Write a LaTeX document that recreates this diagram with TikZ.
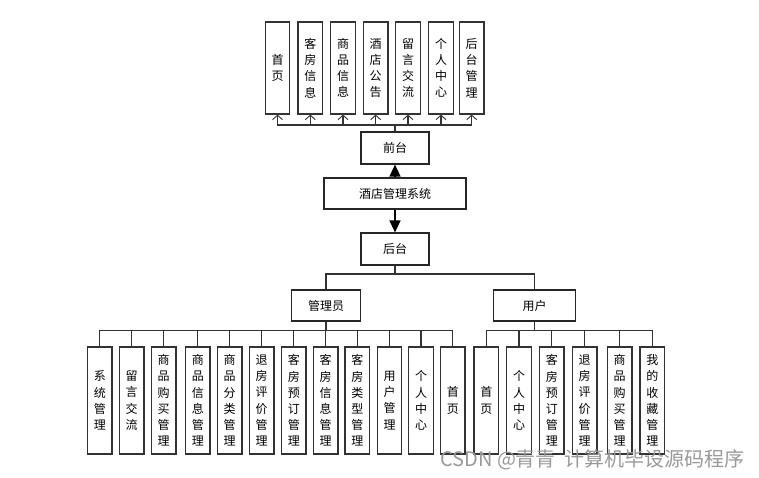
\documentclass[tikz,border=0pt]{standalone}
\usepackage{fontspec}
\newfontfamily\cjk{Noto Sans CJK SC}
\usetikzlibrary{arrows.meta}

\tikzset{
  tallbox/.style={draw=black!80, line width=1.2pt, fill=white, inner sep=0pt,
    minimum width=24.5pt, align=center, font=\cjk\fontsize{12}{16.2}\selectfont},
  toprow/.style={tallbox, minimum height=92pt},
  lowrow/.style={tallbox, minimum height=107pt},
  widebox/.style={draw=black!85, line width=1.2pt, fill=white, inner sep=0pt,
    minimum height=31pt, font=\cjk\fontsize{12}{14}\selectfont},
  wire/.style={draw=black!80, line width=1.3pt},
  openarrow/.style={wire, arrows={-Straight Barb[length=4.5pt, width=10pt, line width=0.9pt]}},
  fullarrow/.style={draw=black, line width=1.4pt, arrows={-Triangle[length=12pt, width=11pt]}}
}

\begin{document}
\begin{tikzpicture}[x=1pt, y=-1pt]
  \useasboundingbox (0, 0) rectangle (759, 478);
  % Draw centre boxes
  \node [widebox, minimum width=142pt] (sys) at (395, 193.6) {酒店管理系统};
  \node [widebox, minimum width=68pt, minimum height=32pt] (front) at (395, 148) {前台};
  \node [widebox, minimum width=68pt, minimum height=32pt] (back) at (395, 249) {后台};
  \node [widebox, minimum width=69pt] (admin) at (326, 305.5) {管理员};
  \node [widebox, minimum width=82pt] (user) at (534.5, 305.5) {用户};
  % Draw front row
  \node [toprow] (f1) at (277.5, 68) {首\\页};
  \node [toprow] (f2) at (310.3, 68) {客\\房\\信\\息};
  \node [toprow] (f3) at (343, 68) {商\\品\\信\\息};
  \node [toprow] (f4) at (375.7, 68) {酒\\店\\公\\告};
  \node [toprow] (f5) at (408, 68) {留\\言\\交\\流};
  \node [toprow] (f6) at (441, 68) {个\\人\\中\\心};
  \node [toprow] (f7) at (471.7, 68) {后\\台\\管\\理};
  % Draw admin row
  \node [lowrow] (a1) at (99.8, 400.5) {系\\统\\管\\理};
  \node [lowrow] (a2) at (131.7, 400.5) {留\\言\\交\\流};
  \node [lowrow] (a3) at (163.7, 400.5) {商\\品\\购\\买\\管\\理};
  \node [lowrow] (a4) at (197.8, 400.5) {商\\品\\信\\息\\管\\理};
  \node [lowrow] (a5) at (229.7, 400.5) {商\\品\\分\\类\\管\\理};
  \node [lowrow] (a6) at (261.7, 400.5) {退\\房\\评\\价\\管\\理};
  \node [lowrow] (a7) at (293.8, 400.5) {客\\房\\预\\订\\管\\理};
  \node [lowrow] (a8) at (325.7, 400.5) {客\\房\\信\\息\\管\\理};
  \node [lowrow] (a9) at (357.3, 400.5) {客\\房\\类\\型\\管\\理};
  \node [lowrow] (a10) at (389.5, 400.5) {用\\户\\管\\理};
  \node [lowrow] (a11) at (421, 400.5) {个\\人\\中\\心};
  \node [lowrow] (a12) at (452.8, 400.5) {首\\页};
  % Draw user row
  \node [lowrow] (u1) at (486.3, 400.5) {首\\页};
  \node [lowrow] (u2) at (519, 400.5) {个\\人\\中\\心};
  \node [lowrow] (u3) at (551.8, 400.5) {客\\房\\预\\订\\管\\理};
  \node [lowrow] (u4) at (584.7, 400.5) {退\\房\\评\\价\\管\\理};
  \node [lowrow] (u5) at (619.7, 400.5) {商\\品\\购\\买\\管\\理};
  \node [lowrow] (u6) at (652.3, 400.5) {我\\的\\收\\藏\\管\\理};
  % Bus points
  \coordinate (fbus) at (395, 125);
  \coordinate (bbus) at (395, 274);
  \coordinate (abus) at (326, 330.7);
  \coordinate (ubus) at (534.5, 330.7);
  % Draw main arrows
  \draw [fullarrow] (sys) -- (front);
  \draw [fullarrow] (sys) -- (back);
  % Draw front wires
  \draw [wire] (front) -- (fbus);
  \draw [openarrow] (fbus) -| (f1.south);
  \draw [openarrow] (fbus) -| (f2.south);
  \draw [openarrow] (fbus) -| (f3.south);
  \draw [openarrow] (fbus) -| (f4.south);
  \draw [openarrow] (fbus) -| (f5.south);
  \draw [openarrow] (fbus) -| (f6.south);
  \draw [openarrow] (fbus) -| (f7.south);
  % Draw back wires
  \draw [wire] (back) -- (bbus);
  \draw [wire] (bbus) -| (admin);
  \draw [wire] (bbus) -| (user);
  \draw [wire] (admin) -- (abus);
  \draw [wire] (abus) -| (a1);
  \draw [wire] (abus) -| (a2);
  \draw [wire] (abus) -| (a3);
  \draw [wire] (abus) -| (a4);
  \draw [wire] (abus) -| (a5);
  \draw [wire] (abus) -| (a6);
  \draw [wire] (abus) -| (a7);
  \draw [wire] (abus) -| (a8);
  \draw [wire] (abus) -| (a9);
  \draw [wire] (abus) -| (a10);
  \draw [wire] (abus) -| (a11);
  \draw [wire] (abus) -| (a12);
  \draw [wire] (user) -- (ubus);
  \draw [wire] (ubus) -| (u1);
  \draw [wire] (ubus) -| (u2);
  \draw [wire] (ubus) -| (u3);
  \draw [wire] (ubus) -| (u4);
  \draw [wire] (ubus) -| (u5);
  \draw [wire] (ubus) -| (u6);
  % Add watermark
  \node [anchor=west, inner sep=0pt, text=black!40, font=\cjk\fontsize{20}{22}\selectfont] (mark) at (440, 460) {CSDN @青青\ \ 计算机毕设源码程序};
\end{tikzpicture}
\end{document}
